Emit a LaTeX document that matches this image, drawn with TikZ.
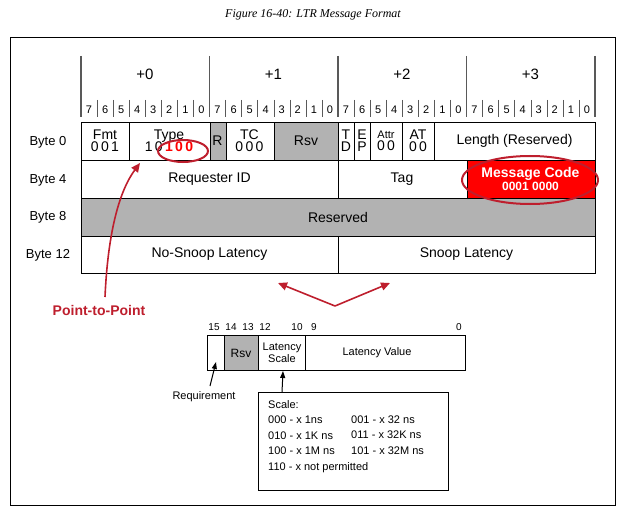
\documentclass[tikz,border=0pt]{standalone}
\usepackage{fontspec}
\setmainfont{Liberation Sans}
\newfontfamily\serifit{Liberation Serif}
\usetikzlibrary{arrows.meta}
\definecolor{dred}{RGB}{190,30,45}
\definecolor{fgrey}{RGB}{178,178,178}
\begin{document}
\begin{tikzpicture}[x=1pt,y=-1pt,
  fld/.style={draw,line width=1.2pt,inner sep=0pt,align=center,font=\fontsize{14}{14}\selectfont},
  bitn/.style={font=\fontsize{11}{11}\selectfont,inner sep=0pt},
  lbl/.style={font=\fontsize{12}{12}\selectfont,inner sep=0pt},
  rarr/.style={dred,line width=1.6pt,-{Triangle[length=9pt,width=8pt]}},
  karr/.style={black,line width=1pt,-{Triangle[length=7pt,width=5pt]}}]
\useasboundingbox (0,0) rectangle (626,513);
\node[font=\serifit\itshape\fontsize{12}{12}\selectfont] (title) at (313,15) {Figure 16-40: LTR Message Format};
\draw[line width=0.8pt] (10,37) rectangle (615,505);
% header
\foreach \i/\t in {0/+0,1/+1,2/+2,3/+3}{
  \draw[line width=1.2pt,gray!70!black] (81+128.5*\i,56) -- (81+128.5*\i,117);
  \node[font=\fontsize{15}{15}\selectfont] (h\i) at (145+128.5*\i,74) {\t};}
\draw[line width=1.2pt,gray!70!black] (595,56) -- (595,117);
\foreach \b in {0,...,3}{\foreach \k in {0,...,7}{
  \pgfmathsetmacro\xx{81+128.5*\b+16.06*\k}
  \pgfmathtruncatemacro\nn{7-\k}
  \node[bitn] (b\b\k) at (\xx+8,110) {\nn};
  \ifnum\k>0 \draw[gray!70!black] (\xx,100) -- (\xx,117);\fi}}
% byte labels
\foreach \r/\t/\y in {0/Byte 0/142,4/Byte 4/180,8/Byte 8/217,12/Byte 12/255}
  \node[lbl,font=\fontsize{13}{13}\selectfont] (bl\r) at (48,\y) {\t};
% row 0
\newcommand\fldbox[6]{\node[fld,minimum width=#3-#2,minimum height=#5-#4,anchor=north west,#6] (#1) at (#2,#4) {};}
\fldbox{fmt}{81}{129.2}{122}{160}{}
\node[fld,draw=none] (fmtt) at (105,141) {Fmt\\[-2pt]0\,0\,1};
\fldbox{type}{129.2}{209.5}{122}{160}{}
\node[fld,draw=none] (typet) at (169,141) {Type\\[-2pt]1\,0\,\textcolor{red}{\textbf{1\,0\,0}}};
\fldbox{r}{209.5}{225.5}{122}{160}{fill=fgrey}
\node[fld,draw=none] at (217.5,141) {R};
\fldbox{tc}{225.5}{273.7}{122}{160}{}
\node[fld,draw=none] at (249.5,141) {TC\\[-2pt]0\,0\,0};
\fldbox{rsv}{273.7}{338}{122}{160}{fill=fgrey}
\node[fld,draw=none] at (306,141) {Rsv};
\fldbox{td}{338}{354}{122}{160}{}
\node[fld,draw=none] at (346,141) {T\\[-2pt]D};
\fldbox{ep}{354}{370}{122}{160}{}
\node[fld,draw=none] at (362,141) {E\\[-2pt]P};
\fldbox{attr}{370}{402}{122}{160}{}
\node[fld,draw=none] at (386,141) {{\fontsize{11}{11}\selectfont Attr}\\[-2pt]0\,0};
\fldbox{at}{402}{434}{122}{160}{}
\node[fld,draw=none] at (418,141) {AT\\[-2pt]0\,0};
\fldbox{len}{434}{595}{122}{160}{}
\node[fld,draw=none] at (514.5,141) {Length (Reserved)};
% row 4
\fldbox{rid}{81}{338}{160}{198}{}
\node[fld,draw=none] at (209.5,179) {Requester ID};
\fldbox{tag}{338}{466.5}{160}{198}{}
\node[fld,draw=none] at (402,179) {Tag};
\fldbox{mc}{466.5}{595}{160}{198}{fill=red}
\node[fld,draw=none,text=white,font=\bfseries\fontsize{14}{14}\selectfont] at (530.5,179) {Message Code\\[-1pt]{\fontsize{12}{12}\selectfont 0001 0000}};
% row 8
\fldbox{res}{81}{595}{198}{236}{fill=fgrey}
\node[fld,draw=none] at (338,217) {Reserved};
% row 12
\fldbox{nsl}{81}{338}{236}{273}{}
\node[fld,draw=none] at (209.5,254) {No-Snoop Latency};
\fldbox{sl}{338}{595}{236}{273}{}
\node[fld,draw=none] at (466.5,254) {Snoop Latency};
% ellipses
\draw[dred,line width=2pt] (183,151) ellipse (25 and 11);
\draw[dred,line width=2pt] (530,180) ellipse (68 and 24);
% point-to-point
\node[font=\bfseries\fontsize{14}{14}\selectfont,text=dred] (ptp) at (99,310) {Point-to-Point};
\coordinate (ptpa) at (140,163);
\draw[rarr] (105,297) .. controls (108,230) and (120,190) .. (ptpa);
\coordinate (vtip) at (335,306);
\coordinate (vl) at (278,283);
\coordinate (vr) at (390,283);
\draw[rarr] (vtip) -- (vl);
\draw[rarr] (vtip) -- (vr);
% bottom register
\foreach \t/\x in {15/214,14/231,13/248,12/265,10/297,9/314,0/459}
  \node[font=\fontsize{10}{10}\selectfont,inner sep=0pt] at (\x,327) {\t};
\draw[line width=1pt] (207,335) rectangle (465,370);
\draw[line width=1pt,fill=fgrey] (224,335) rectangle (258,370);
\node[lbl] (rsvb) at (241,353) {Rsv};
\draw[line width=1pt] (258,335) rectangle (305,370);
\node[lbl,align=center,font=\fontsize{11}{12}\selectfont] (ls) at (282,353) {Latency\\Scale};
\node[lbl,font=\fontsize{11}{11}\selectfont] (lv) at (377,353) {Latency Value};
\node[lbl,font=\fontsize{11}{11}\selectfont] (req) at (204,397) {Requirement};
\coordinate (reqt) at (216,362);
\draw[karr] (210,386) -- (reqt);
\node[draw,line width=1pt,minimum width=190pt,minimum height=98pt,anchor=north west,inner sep=0pt] (sc) at (258,392) {};
\node[anchor=north west,align=left,font=\fontsize{11}{15.5}\selectfont,inner sep=0pt] at (268,400)
 {Scale:\\000 - x 1ns\\010 - x 1K ns\\100 - x 1M ns\\110 - x not permitted};
\node[anchor=north west,align=left,font=\fontsize{11}{15.5}\selectfont,inner sep=0pt] at (351,415.5)
 {001 - x 32 ns\\011 - x 32K ns\\101 - x 32M ns};
\coordinate (lst) at (283,371);
\coordinate (scs) at (282,392);
\draw[karr] (scs) -- (lst);
\end{tikzpicture}
\end{document}
